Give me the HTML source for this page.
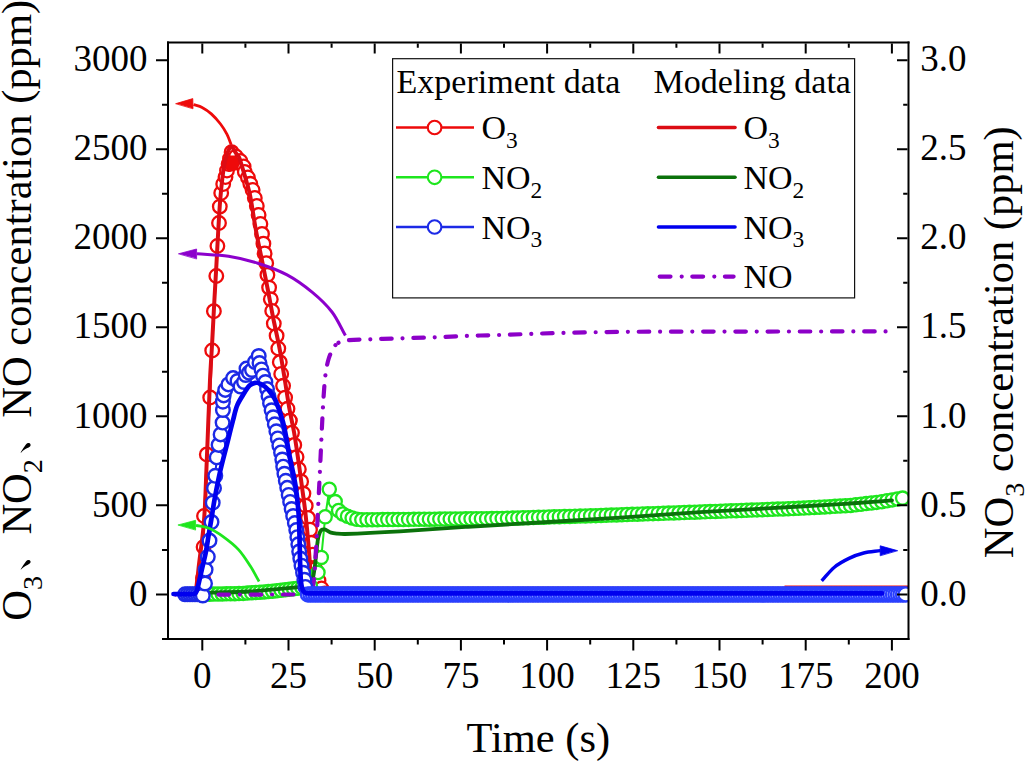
<!DOCTYPE html><html><head><meta charset="utf-8"><title>chart</title><style>html,body{margin:0;padding:0;background:#fff;}svg{display:block;}text{font-family:"Liberation Serif",serif;fill:#000;}</style></head><body>
<svg width="1025" height="762" viewBox="0 0 1025 762">
<rect width="1025" height="762" fill="#fff"/>
<defs><clipPath id="pc"><rect x="168" y="42.5" width="740.5" height="596.5"/></clipPath></defs>
<g clip-path="url(#pc)" stroke-linejoin="round" stroke-linecap="round" fill="none">
<path d="M201.5 594.4 L203 578 L203.6 547 L204 516 L206.8 454.4 L210.2 397.5 L212.2 350.5 L213.9 311.2 L216.3 276 L217.4 246 L219 223 L219.8 206.6 L221.2 193 L223.2 184 L225.5 177 L227 170.5 L228.6 164 L230 158.6 L231.6 152.2 L236 156.5 L240.4 161 L243.6 166.5 L244.8 172 L247.9 177.5 L250.3 183.8 L252.6 190 L254.8 198 L256.8 206 L258.6 215 L260.4 224 L262 233.9 L263.4 243.7 L264.6 253.4 L266.2 263.2 L267.4 274.9 L269.1 287.6 L270.8 299.3 L272.2 311 L273.8 323.5 L276.6 335.7 L278.3 348.5 L279.8 362.2 L281.2 374 L283.1 385.8 L285.1 397.6 L287.5 408.8 L289.7 420.6 L289.7 420.6 L291.99 432.76 L294.27 444.93 L296.56 457.09 L298.85 469.25 L301.14 481.41 L303.43 493.57 L305.71 505.74 L308 517.9 L310 529.7 L311.3 542.8 L312.6 554.6 L315.2 569.1 L318.5 580.5 L321.5 588.5 L325 593.5 L328 594.4 L333 594.4 L338 594.4 L343 594.4 L348 594.4 L353 594.4 L358 594.4 L363 594.4 L368 594.4 L373 594.4 L378 594.4 L383 594.4 L388 594.4 L393 594.4 L398 594.4 L403 594.4 L408 594.4 L413 594.4 L418 594.4 L423 594.4 L428 594.4 L433 594.4 L438 594.4 L443 594.4 L448 594.4 L453 594.4 L458 594.4 L463 594.4 L468 594.4 L473 594.4 L478 594.4 L483 594.4 L488 594.4 L493 594.4 L498 594.4 L503 594.4 L508 594.4 L513 594.4 L518 594.4 L523 594.4 L528 594.4 L533 594.4 L538 594.4 L543 594.4 L548 594.4 L553 594.4 L558 594.4 L563 594.4 L568 594.4 L573 594.4 L578 594.4 L583 594.4 L588 594.4 L593 594.4 L598 594.4 L603 594.4 L608 594.4 L613 594.4 L618 594.4 L623 594.4 L628 594.4 L633 594.4 L638 594.4 L643 594.4 L648 594.4 L653 594.4 L658 594.4 L663 594.4 L668 594.4 L673 594.4 L678 594.4 L683 594.4 L688 594.4 L693 594.4 L698 594.4 L703 594.4 L708 594.4 L713 594.4 L718 594.4 L723 594.4 L728 594.4 L733 594.4 L738 594.4 L743 594.4 L748 594.4 L753 594.4 L758 594.4 L763 594.4 L768 594.4 L773 594.4 L778 594.4 L783 594.4 L788 594.4 L793 594.4 L798 594.4 L803 594.4 L808 594.4 L813 594.4 L818 594.4 L823 594.4 L828 594.4 L833 594.4 L838 594.4 L843 594.4 L848 594.4 L853 594.4 L858 594.4 L863 594.4 L868 594.4 L873 594.4 L878 594.4 L883 594.4 L888 594.4 L893 594.4 L898 594.4 L903 594.4" stroke="#ee0a0a" stroke-width="2" fill="none"/>
<g fill="#fff" stroke="#ee0a0a" stroke-width="2.3"><circle cx="201.5" cy="594.4" r="6.8"/><circle cx="203" cy="578" r="6.8"/><circle cx="203.6" cy="547" r="6.8"/><circle cx="204" cy="516" r="6.8"/><circle cx="206.8" cy="454.4" r="6.8"/><circle cx="210.2" cy="397.5" r="6.8"/><circle cx="212.2" cy="350.5" r="6.8"/><circle cx="213.9" cy="311.2" r="6.8"/><circle cx="216.3" cy="276" r="6.8"/><circle cx="217.4" cy="246" r="6.8"/><circle cx="219" cy="223" r="6.8"/><circle cx="219.8" cy="206.6" r="6.8"/><circle cx="221.2" cy="193" r="6.8"/><circle cx="223.2" cy="184" r="6.8"/><circle cx="225.5" cy="177" r="6.8"/><circle cx="227" cy="170.5" r="6.8"/><circle cx="228.6" cy="164" r="6.8"/><circle cx="230" cy="158.6" r="6.8"/><circle cx="231.6" cy="152.2" r="6.8"/><circle cx="236" cy="156.5" r="6.8"/><circle cx="240.4" cy="161" r="6.8"/><circle cx="243.6" cy="166.5" r="6.8"/><circle cx="244.8" cy="172" r="6.8"/><circle cx="247.9" cy="177.5" r="6.8"/><circle cx="250.3" cy="183.8" r="6.8"/><circle cx="252.6" cy="190" r="6.8"/><circle cx="254.8" cy="198" r="6.8"/><circle cx="256.8" cy="206" r="6.8"/><circle cx="258.6" cy="215" r="6.8"/><circle cx="260.4" cy="224" r="6.8"/><circle cx="262" cy="233.9" r="6.8"/><circle cx="263.4" cy="243.7" r="6.8"/><circle cx="264.6" cy="253.4" r="6.8"/><circle cx="266.2" cy="263.2" r="6.8"/><circle cx="267.4" cy="274.9" r="6.8"/><circle cx="269.1" cy="287.6" r="6.8"/><circle cx="270.8" cy="299.3" r="6.8"/><circle cx="272.2" cy="311" r="6.8"/><circle cx="273.8" cy="323.5" r="6.8"/><circle cx="276.6" cy="335.7" r="6.8"/><circle cx="278.3" cy="348.5" r="6.8"/><circle cx="279.8" cy="362.2" r="6.8"/><circle cx="281.2" cy="374" r="6.8"/><circle cx="283.1" cy="385.8" r="6.8"/><circle cx="285.1" cy="397.6" r="6.8"/><circle cx="287.5" cy="408.8" r="6.8"/><circle cx="289.7" cy="420.6" r="6.8"/><circle cx="289.7" cy="420.6" r="6.8"/><circle cx="291.99" cy="432.76" r="6.8"/><circle cx="294.27" cy="444.93" r="6.8"/><circle cx="296.56" cy="457.09" r="6.8"/><circle cx="298.85" cy="469.25" r="6.8"/><circle cx="301.14" cy="481.41" r="6.8"/><circle cx="303.43" cy="493.57" r="6.8"/><circle cx="305.71" cy="505.74" r="6.8"/><circle cx="308" cy="517.9" r="6.8"/><circle cx="310" cy="529.7" r="6.8"/><circle cx="311.3" cy="542.8" r="6.8"/><circle cx="312.6" cy="554.6" r="6.8"/><circle cx="315.2" cy="569.1" r="6.8"/><circle cx="318.5" cy="580.5" r="6.8"/><circle cx="321.5" cy="588.5" r="6.8"/><circle cx="325" cy="593.5" r="6.8"/><circle cx="328" cy="594.4" r="6.8"/><circle cx="333" cy="594.4" r="6.8"/><circle cx="338" cy="594.4" r="6.8"/><circle cx="343" cy="594.4" r="6.8"/><circle cx="348" cy="594.4" r="6.8"/><circle cx="353" cy="594.4" r="6.8"/><circle cx="358" cy="594.4" r="6.8"/><circle cx="363" cy="594.4" r="6.8"/><circle cx="368" cy="594.4" r="6.8"/><circle cx="373" cy="594.4" r="6.8"/><circle cx="378" cy="594.4" r="6.8"/><circle cx="383" cy="594.4" r="6.8"/><circle cx="388" cy="594.4" r="6.8"/><circle cx="393" cy="594.4" r="6.8"/><circle cx="398" cy="594.4" r="6.8"/><circle cx="403" cy="594.4" r="6.8"/><circle cx="408" cy="594.4" r="6.8"/><circle cx="413" cy="594.4" r="6.8"/><circle cx="418" cy="594.4" r="6.8"/><circle cx="423" cy="594.4" r="6.8"/><circle cx="428" cy="594.4" r="6.8"/><circle cx="433" cy="594.4" r="6.8"/><circle cx="438" cy="594.4" r="6.8"/><circle cx="443" cy="594.4" r="6.8"/><circle cx="448" cy="594.4" r="6.8"/><circle cx="453" cy="594.4" r="6.8"/><circle cx="458" cy="594.4" r="6.8"/><circle cx="463" cy="594.4" r="6.8"/><circle cx="468" cy="594.4" r="6.8"/><circle cx="473" cy="594.4" r="6.8"/><circle cx="478" cy="594.4" r="6.8"/><circle cx="483" cy="594.4" r="6.8"/><circle cx="488" cy="594.4" r="6.8"/><circle cx="493" cy="594.4" r="6.8"/><circle cx="498" cy="594.4" r="6.8"/><circle cx="503" cy="594.4" r="6.8"/><circle cx="508" cy="594.4" r="6.8"/><circle cx="513" cy="594.4" r="6.8"/><circle cx="518" cy="594.4" r="6.8"/><circle cx="523" cy="594.4" r="6.8"/><circle cx="528" cy="594.4" r="6.8"/><circle cx="533" cy="594.4" r="6.8"/><circle cx="538" cy="594.4" r="6.8"/><circle cx="543" cy="594.4" r="6.8"/><circle cx="548" cy="594.4" r="6.8"/><circle cx="553" cy="594.4" r="6.8"/><circle cx="558" cy="594.4" r="6.8"/><circle cx="563" cy="594.4" r="6.8"/><circle cx="568" cy="594.4" r="6.8"/><circle cx="573" cy="594.4" r="6.8"/><circle cx="578" cy="594.4" r="6.8"/><circle cx="583" cy="594.4" r="6.8"/><circle cx="588" cy="594.4" r="6.8"/><circle cx="593" cy="594.4" r="6.8"/><circle cx="598" cy="594.4" r="6.8"/><circle cx="603" cy="594.4" r="6.8"/><circle cx="608" cy="594.4" r="6.8"/><circle cx="613" cy="594.4" r="6.8"/><circle cx="618" cy="594.4" r="6.8"/><circle cx="623" cy="594.4" r="6.8"/><circle cx="628" cy="594.4" r="6.8"/><circle cx="633" cy="594.4" r="6.8"/><circle cx="638" cy="594.4" r="6.8"/><circle cx="643" cy="594.4" r="6.8"/><circle cx="648" cy="594.4" r="6.8"/><circle cx="653" cy="594.4" r="6.8"/><circle cx="658" cy="594.4" r="6.8"/><circle cx="663" cy="594.4" r="6.8"/><circle cx="668" cy="594.4" r="6.8"/><circle cx="673" cy="594.4" r="6.8"/><circle cx="678" cy="594.4" r="6.8"/><circle cx="683" cy="594.4" r="6.8"/><circle cx="688" cy="594.4" r="6.8"/><circle cx="693" cy="594.4" r="6.8"/><circle cx="698" cy="594.4" r="6.8"/><circle cx="703" cy="594.4" r="6.8"/><circle cx="708" cy="594.4" r="6.8"/><circle cx="713" cy="594.4" r="6.8"/><circle cx="718" cy="594.4" r="6.8"/><circle cx="723" cy="594.4" r="6.8"/><circle cx="728" cy="594.4" r="6.8"/><circle cx="733" cy="594.4" r="6.8"/><circle cx="738" cy="594.4" r="6.8"/><circle cx="743" cy="594.4" r="6.8"/><circle cx="748" cy="594.4" r="6.8"/><circle cx="753" cy="594.4" r="6.8"/><circle cx="758" cy="594.4" r="6.8"/><circle cx="763" cy="594.4" r="6.8"/><circle cx="768" cy="594.4" r="6.8"/><circle cx="773" cy="594.4" r="6.8"/><circle cx="778" cy="594.4" r="6.8"/><circle cx="783" cy="594.4" r="6.8"/><circle cx="788" cy="594.4" r="6.8"/><circle cx="793" cy="594.4" r="6.8"/><circle cx="798" cy="594.4" r="6.8"/><circle cx="803" cy="594.4" r="6.8"/><circle cx="808" cy="594.4" r="6.8"/><circle cx="813" cy="594.4" r="6.8"/><circle cx="818" cy="594.4" r="6.8"/><circle cx="823" cy="594.4" r="6.8"/><circle cx="828" cy="594.4" r="6.8"/><circle cx="833" cy="594.4" r="6.8"/><circle cx="838" cy="594.4" r="6.8"/><circle cx="843" cy="594.4" r="6.8"/><circle cx="848" cy="594.4" r="6.8"/><circle cx="853" cy="594.4" r="6.8"/><circle cx="858" cy="594.4" r="6.8"/><circle cx="863" cy="594.4" r="6.8"/><circle cx="868" cy="594.4" r="6.8"/><circle cx="873" cy="594.4" r="6.8"/><circle cx="878" cy="594.4" r="6.8"/><circle cx="883" cy="594.4" r="6.8"/><circle cx="888" cy="594.4" r="6.8"/><circle cx="893" cy="594.4" r="6.8"/><circle cx="898" cy="594.4" r="6.8"/><circle cx="903" cy="594.4" r="6.8"/></g>
<path d="M226.8 155.6 L236.2 155.6 L240.6 162 L237.5 170 L229.5 172 L223.6 167.5 Z" fill="#ee0a0a"/>
<path d="M190 594.4 C191.67 593.6 194.25 593.5 195 592 C196.65 588.7 196.62 584.02 197.2 580 C197.92 575.02 198.3 570 198.9 565 C199.66 558.66 200.53 552.34 201.3 546 C202.03 540 202.86 534.01 203.4 528 C204.09 520.35 204.6 512.67 205 505 C205.6 493.34 205.93 481.67 206.4 470 C206.8 460 207.2 450 207.6 440 C208.4 420 209.06 399.99 210 380 C210.63 366.66 211.57 353.34 212.3 340 C213.03 326.67 213.67 313.33 214.4 300 C215.04 288.33 215.75 276.67 216.4 265 C217.09 252.67 217.68 240.33 218.4 228 C218.95 218.66 219.45 209.32 220.2 200 C220.79 192.65 221.51 185.31 222.4 178 C223.05 172.65 223.69 167.26 224.8 162 C225.55 158.43 226.62 154.86 228 151.5 C228.79 149.59 230.15 146.32 231.3 146.2 C232.35 146.09 233.56 149.23 234.6 150.8 C235.39 152 235.97 153.33 236.8 154.5 C237.44 155.4 238.57 156 239 157 C240.3 160 241.03 163.32 242 166.5 C243.6 171.72 245.24 176.94 246.7 182.2 C247.97 186.77 249.3 191.34 250.2 196 C252.37 207.28 253.84 218.7 255.9 230 C257.61 239.36 259.63 248.67 261.5 258 C263.53 268.17 265.62 278.32 267.6 288.5 C269.52 298.32 271.24 308.19 273.2 318 C275.14 327.72 277.45 337.36 279.3 347.1 C281.12 356.7 282.62 366.36 284.2 376 C285.99 386.89 287.5 397.83 289.4 408.7 C290.76 416.5 292.65 424.2 294 432 C295.61 441.3 296.94 450.66 298.3 460 C299.61 468.99 300.79 478 302 487 C303.12 495.33 304.36 503.65 305.3 512 C306.53 522.98 307.54 533.99 308.5 545 C309.37 554.99 309.91 565.01 310.8 575 C311.25 580.01 311.23 585.3 312.5 590 C312.96 591.7 314.49 593.5 316 594.2 C317.66 594.97 320 594.33 322 594.4" stroke="#dc0c14" stroke-width="4.0" fill="none"/>
<path d="M209.6 594.2 L213.8 594.12 L218 594.03 L222.2 593.95 L226.4 593.87 L230.6 593.79 L234.8 593.7 L239 593.62 L243.2 593.38 L247.4 593.08 L251.6 592.79 L255.8 592.49 L260 592.2 L264.2 591.91 L268.4 591.61 L272.6 591.2 L276.8 590.71 L281 590.22 L285.2 589.73 L289.4 589.25 L293.6 588.76 L297.8 588.27 L302 587.63 L306.2 586.95 L310.4 585.9 L318 572.5 L321.3 557.4 L325.2 516.8 L329.3 489.3 L335.2 501.6 L338.6 510.5 L342.8 513.9 L347.5 516.2 L352.1 518 L356.8 519.2 L361.8 519.8 L367 519.75 L372.2 519.71 L377.4 519.66 L382.6 519.62 L387.8 519.57 L393 519.53 L398.2 519.48 L403.4 519.43 L408.6 519.39 L413.8 519.34 L419 519.3 L424.2 519.25 L429.4 519.21 L434.6 519.15 L439.8 519.1 L445 519.05 L450.2 519 L455.4 518.95 L460.6 518.89 L465.8 518.84 L471 518.79 L476.2 518.74 L481.4 518.69 L486.6 518.63 L491.8 518.58 L497 518.53 L502.2 518.43 L507.4 518.28 L512.6 518.12 L517.8 517.97 L523 517.81 L528.2 517.65 L533.4 517.5 L538.6 517.34 L543.8 517.19 L549 517.03 L554.2 516.87 L559.4 516.72 L564.6 516.56 L569.8 516.41 L575 516.25 L580.2 516.09 L585.4 515.94 L590.6 515.78 L595.8 515.63 L601 515.47 L606.2 515.28 L611.4 515.1 L616.6 514.92 L621.8 514.74 L627 514.55 L632.2 514.37 L637.4 514.19 L642.6 514.01 L647.8 513.83 L653 513.64 L658.2 513.46 L663.4 513.28 L668.6 513.1 L673.8 512.92 L679 512.74 L684.2 512.55 L689.4 512.37 L694.6 512.19 L699.8 512.01 L705 511.81 L710.2 511.62 L715.4 511.43 L720.6 511.24 L725.8 511.05 L731 510.85 L736.2 510.66 L741.4 510.47 L746.6 510.28 L751.8 510.08 L757 509.89 L762.2 509.7 L767.4 509.51 L772.6 509.31 L777.8 509.12 L783 508.93 L788.2 508.74 L793.4 508.54 L798.6 508.35 L803.8 508.09 L809 507.8 L814.2 507.5 L819.4 507.21 L824.6 506.92 L829.8 506.63 L835 506.34 L840.2 506.05 L845.4 505.76 L850.6 505.43 L855.8 504.82 L861 504.22 L866.2 503.61 L871.4 503 L876.6 502.4 L881.8 501.69 L887 500.79 L892.2 499.89 L897.4 498.99 L902.6 498.09" stroke="#1ee61e" stroke-width="2" fill="none"/>
<g fill="#fff" stroke="#1ee61e" stroke-width="2.3"><circle cx="209.6" cy="594.2" r="6.6"/><circle cx="213.8" cy="594.12" r="6.6"/><circle cx="218" cy="594.03" r="6.6"/><circle cx="222.2" cy="593.95" r="6.6"/><circle cx="226.4" cy="593.87" r="6.6"/><circle cx="230.6" cy="593.79" r="6.6"/><circle cx="234.8" cy="593.7" r="6.6"/><circle cx="239" cy="593.62" r="6.6"/><circle cx="243.2" cy="593.38" r="6.6"/><circle cx="247.4" cy="593.08" r="6.6"/><circle cx="251.6" cy="592.79" r="6.6"/><circle cx="255.8" cy="592.49" r="6.6"/><circle cx="260" cy="592.2" r="6.6"/><circle cx="264.2" cy="591.91" r="6.6"/><circle cx="268.4" cy="591.61" r="6.6"/><circle cx="272.6" cy="591.2" r="6.6"/><circle cx="276.8" cy="590.71" r="6.6"/><circle cx="281" cy="590.22" r="6.6"/><circle cx="285.2" cy="589.73" r="6.6"/><circle cx="289.4" cy="589.25" r="6.6"/><circle cx="293.6" cy="588.76" r="6.6"/><circle cx="297.8" cy="588.27" r="6.6"/><circle cx="302" cy="587.63" r="6.6"/><circle cx="306.2" cy="586.95" r="6.6"/><circle cx="310.4" cy="585.9" r="6.6"/><circle cx="318" cy="572.5" r="6.6"/><circle cx="321.3" cy="557.4" r="6.6"/><circle cx="325.2" cy="516.8" r="6.6"/><circle cx="329.3" cy="489.3" r="6.6"/><circle cx="335.2" cy="501.6" r="6.6"/><circle cx="338.6" cy="510.5" r="6.6"/><circle cx="342.8" cy="513.9" r="6.6"/><circle cx="347.5" cy="516.2" r="6.6"/><circle cx="352.1" cy="518" r="6.6"/><circle cx="356.8" cy="519.2" r="6.6"/><circle cx="361.8" cy="519.8" r="6.6"/><circle cx="367" cy="519.75" r="6.6"/><circle cx="372.2" cy="519.71" r="6.6"/><circle cx="377.4" cy="519.66" r="6.6"/><circle cx="382.6" cy="519.62" r="6.6"/><circle cx="387.8" cy="519.57" r="6.6"/><circle cx="393" cy="519.53" r="6.6"/><circle cx="398.2" cy="519.48" r="6.6"/><circle cx="403.4" cy="519.43" r="6.6"/><circle cx="408.6" cy="519.39" r="6.6"/><circle cx="413.8" cy="519.34" r="6.6"/><circle cx="419" cy="519.3" r="6.6"/><circle cx="424.2" cy="519.25" r="6.6"/><circle cx="429.4" cy="519.21" r="6.6"/><circle cx="434.6" cy="519.15" r="6.6"/><circle cx="439.8" cy="519.1" r="6.6"/><circle cx="445" cy="519.05" r="6.6"/><circle cx="450.2" cy="519" r="6.6"/><circle cx="455.4" cy="518.95" r="6.6"/><circle cx="460.6" cy="518.89" r="6.6"/><circle cx="465.8" cy="518.84" r="6.6"/><circle cx="471" cy="518.79" r="6.6"/><circle cx="476.2" cy="518.74" r="6.6"/><circle cx="481.4" cy="518.69" r="6.6"/><circle cx="486.6" cy="518.63" r="6.6"/><circle cx="491.8" cy="518.58" r="6.6"/><circle cx="497" cy="518.53" r="6.6"/><circle cx="502.2" cy="518.43" r="6.6"/><circle cx="507.4" cy="518.28" r="6.6"/><circle cx="512.6" cy="518.12" r="6.6"/><circle cx="517.8" cy="517.97" r="6.6"/><circle cx="523" cy="517.81" r="6.6"/><circle cx="528.2" cy="517.65" r="6.6"/><circle cx="533.4" cy="517.5" r="6.6"/><circle cx="538.6" cy="517.34" r="6.6"/><circle cx="543.8" cy="517.19" r="6.6"/><circle cx="549" cy="517.03" r="6.6"/><circle cx="554.2" cy="516.87" r="6.6"/><circle cx="559.4" cy="516.72" r="6.6"/><circle cx="564.6" cy="516.56" r="6.6"/><circle cx="569.8" cy="516.41" r="6.6"/><circle cx="575" cy="516.25" r="6.6"/><circle cx="580.2" cy="516.09" r="6.6"/><circle cx="585.4" cy="515.94" r="6.6"/><circle cx="590.6" cy="515.78" r="6.6"/><circle cx="595.8" cy="515.63" r="6.6"/><circle cx="601" cy="515.47" r="6.6"/><circle cx="606.2" cy="515.28" r="6.6"/><circle cx="611.4" cy="515.1" r="6.6"/><circle cx="616.6" cy="514.92" r="6.6"/><circle cx="621.8" cy="514.74" r="6.6"/><circle cx="627" cy="514.55" r="6.6"/><circle cx="632.2" cy="514.37" r="6.6"/><circle cx="637.4" cy="514.19" r="6.6"/><circle cx="642.6" cy="514.01" r="6.6"/><circle cx="647.8" cy="513.83" r="6.6"/><circle cx="653" cy="513.64" r="6.6"/><circle cx="658.2" cy="513.46" r="6.6"/><circle cx="663.4" cy="513.28" r="6.6"/><circle cx="668.6" cy="513.1" r="6.6"/><circle cx="673.8" cy="512.92" r="6.6"/><circle cx="679" cy="512.74" r="6.6"/><circle cx="684.2" cy="512.55" r="6.6"/><circle cx="689.4" cy="512.37" r="6.6"/><circle cx="694.6" cy="512.19" r="6.6"/><circle cx="699.8" cy="512.01" r="6.6"/><circle cx="705" cy="511.81" r="6.6"/><circle cx="710.2" cy="511.62" r="6.6"/><circle cx="715.4" cy="511.43" r="6.6"/><circle cx="720.6" cy="511.24" r="6.6"/><circle cx="725.8" cy="511.05" r="6.6"/><circle cx="731" cy="510.85" r="6.6"/><circle cx="736.2" cy="510.66" r="6.6"/><circle cx="741.4" cy="510.47" r="6.6"/><circle cx="746.6" cy="510.28" r="6.6"/><circle cx="751.8" cy="510.08" r="6.6"/><circle cx="757" cy="509.89" r="6.6"/><circle cx="762.2" cy="509.7" r="6.6"/><circle cx="767.4" cy="509.51" r="6.6"/><circle cx="772.6" cy="509.31" r="6.6"/><circle cx="777.8" cy="509.12" r="6.6"/><circle cx="783" cy="508.93" r="6.6"/><circle cx="788.2" cy="508.74" r="6.6"/><circle cx="793.4" cy="508.54" r="6.6"/><circle cx="798.6" cy="508.35" r="6.6"/><circle cx="803.8" cy="508.09" r="6.6"/><circle cx="809" cy="507.8" r="6.6"/><circle cx="814.2" cy="507.5" r="6.6"/><circle cx="819.4" cy="507.21" r="6.6"/><circle cx="824.6" cy="506.92" r="6.6"/><circle cx="829.8" cy="506.63" r="6.6"/><circle cx="835" cy="506.34" r="6.6"/><circle cx="840.2" cy="506.05" r="6.6"/><circle cx="845.4" cy="505.76" r="6.6"/><circle cx="850.6" cy="505.43" r="6.6"/><circle cx="855.8" cy="504.82" r="6.6"/><circle cx="861" cy="504.22" r="6.6"/><circle cx="866.2" cy="503.61" r="6.6"/><circle cx="871.4" cy="503" r="6.6"/><circle cx="876.6" cy="502.4" r="6.6"/><circle cx="881.8" cy="501.69" r="6.6"/><circle cx="887" cy="500.79" r="6.6"/><circle cx="892.2" cy="499.89" r="6.6"/><circle cx="897.4" cy="498.99" r="6.6"/><circle cx="902.6" cy="498.09" r="6.6"/></g>
<path d="M200 593.2 C203.67 593 207.33 592.72 211 592.6 C224 592.16 237.03 592.32 250 591.5 C266.16 590.48 282.28 588.68 298.4 587.1 C300.95 586.85 303.68 586.9 306 586 C308.05 585.2 310.39 583.83 311.5 582 C313.02 579.5 313.35 576.05 313.9 573 C314.79 568.05 315.2 563 315.8 558 C316.5 552.07 316.88 546.09 317.8 540.2 C318.21 537.59 318.84 534.92 319.8 532.5 C320.24 531.39 321.07 530.21 322 529.6 C322.64 529.18 323.7 529.26 324.5 529.4 C325.37 529.56 326.18 530.1 327 530.5 C328.35 531.16 329.57 532.18 331 532.6 C333.07 533.21 335.32 533.38 337.5 533.6 C339.99 533.85 342.5 534.09 345 534 C363.33 533.33 381.68 532.37 400 531.3 C422.68 529.97 445.33 528.23 468 526.8 C492 525.29 516 523.95 540 522.5 C566.67 520.89 593.34 519.32 620 517.6 C646.67 515.88 673.32 513.85 700 512.2 C733.32 510.15 766.67 508.43 800 506.5 C816.67 505.53 833.34 504.6 850 503.5 C864.01 502.57 878 501.43 892 500.4" stroke="#0b720b" stroke-width="3.8" fill="none"/>
<path d="M173.5 594.6 L303 594.5" stroke="#8c00c8" stroke-width="4.2" fill="none" stroke-dasharray="10.5 10.85 0.01 10.85" stroke-dashoffset="19.4"/>
<path d="M303 594.5 C305 594.13 307.45 594.45 309 593.4 C310.65 592.28 312.07 590.05 312.6 588 C313.91 582.91 314.01 577.35 314.5 572 C315.01 566.35 315.23 560.67 315.6 555 C315.93 550 316.33 545 316.6 540 C317.06 531.34 317.38 522.67 317.8 514 C318.31 503.33 318.88 492.67 319.4 482 C319.88 472 320.33 462 320.8 452 C321.27 442 321.7 432 322.2 422 C322.6 414 322.99 405.99 323.5 398 C323.89 391.99 324.31 385.99 324.9 380 C325.28 376.15 325.73 372.3 326.4 368.5 C326.96 365.3 327.64 362.09 328.6 359 C329.5 356.09 330.61 353.2 332 350.5 C333.28 348 335.07 345.77 336.6 343.4" stroke="#8c00c8" stroke-width="4.2" fill="none" stroke-dasharray="10.5 10.85 0.01 10.85" stroke-dashoffset="21"/>
<path d="M336.6 343.4 C339.83 342.4 342.96 340.81 346.3 340.4 C354.03 339.45 361.96 339.6 369.8 339.3 C380.53 338.9 391.27 338.63 402 338.3 C412.7 337.97 423.4 337.7 434.1 337.3 C444.84 336.9 455.56 336.28 466.3 335.9 C477.03 335.52 487.77 335.33 498.5 335 C519 334.37 539.5 333.52 560 333 C580 332.49 600 332.1 620 331.9 C646.66 331.63 673.33 331.66 700 331.6 C733.33 331.53 766.67 331.54 800 331.5 C830 331.47 860 331.43 890 331.4" stroke="#8c00c8" stroke-width="4.2" fill="none" stroke-dasharray="0.01 10.85 10.5 10.85" stroke-dashoffset="-2"/>
<path d="M785 586.3 H908" stroke="#ee0a0a" stroke-width="1.6"/>
<path d="M185 594.3 L187.5 594.3 L190 594.3 L192.5 594.3 L195 594.3 L197.5 594.3 L200 594.3 L202.8 595.5 L205 583.5 L205.6 569.6 L207.8 556.8 L209.5 540.6 L211.5 522 L212.7 502.7 L214 488.2 L215.3 475.8 L216.7 457.4 L218.6 444.9 L220.6 434.4 L222.6 422.6 L222.9 410 L222.9 401.7 L223.7 395.4 L225.2 389.9 L228.4 384.4 L233.1 378.1 L237.5 381 L240.5 386.5 L244 382 L245.7 375 L246.5 368.6 L249 372.6 L252 370 L255 362 L258.7 356 L259.5 363.1 L261.5 369.4 L263 375.7 L265.4 382 L267 389.1 L268.5 396.2 L270.02 403.24 L271.61 410.26 L273.23 417.27 L274.8 424.3 L276.36 431.33 L277.78 438.39 L279.32 445.42 L281.04 452.41 L282.29 459.49 L283.24 466.63 L284.44 473.73 L285.79 480.8 L287.23 487.85 L288.68 494.91 L290.16 501.95 L291.65 509 L293.18 516.03 L294.85 523.04 L296.27 530.09 L297.35 537.21 L298.31 544.34 L299.18 551.49 L300.3 558.6 L301.53 565.69 L303.07 572.73 L304.38 579.8 L305.35 586.93 L308 594.4 L310.5 594.4 L313 594.4 L315.5 594.4 L318 594.4 L320.5 594.4 L323 594.4 L325.5 594.4 L328 594.4 L330.5 594.4 L333 594.4 L335.5 594.4 L338 594.4 L340.5 594.4 L343 594.4 L345.5 594.4 L348 594.4 L350.5 594.4 L353 594.4 L355.5 594.4 L358 594.4 L360.5 594.4 L363 594.4 L365.5 594.4 L368 594.4 L370.5 594.4 L373 594.4 L375.5 594.4 L378 594.4 L380.5 594.4 L383 594.4 L385.5 594.4 L388 594.4 L390.5 594.4 L393 594.4 L395.5 594.4 L398 594.4 L400.5 594.4 L403 594.4 L405.5 594.4 L408 594.4 L410.5 594.4 L413 594.4 L415.5 594.4 L418 594.4 L420.5 594.4 L423 594.4 L425.5 594.4 L428 594.4 L430.5 594.4 L433 594.4 L435.5 594.4 L438 594.4 L440.5 594.4 L443 594.4 L445.5 594.4 L448 594.4 L450.5 594.4 L453 594.4 L455.5 594.4 L458 594.4 L460.5 594.4 L463 594.4 L465.5 594.4 L468 594.4 L470.5 594.4 L473 594.4 L475.5 594.4 L478 594.4 L480.5 594.4 L483 594.4 L485.5 594.4 L488 594.4 L490.5 594.4 L493 594.4 L495.5 594.4 L498 594.4 L500.5 594.4 L503 594.4 L505.5 594.4 L508 594.4 L510.5 594.4 L513 594.4 L515.5 594.4 L518 594.4 L520.5 594.4 L523 594.4 L525.5 594.4 L528 594.4 L530.5 594.4 L533 594.4 L535.5 594.4 L538 594.4 L540.5 594.4 L543 594.4 L545.5 594.4 L548 594.4 L550.5 594.4 L553 594.4 L555.5 594.4 L558 594.4 L560.5 594.4 L563 594.4 L565.5 594.4 L568 594.4 L570.5 594.4 L573 594.4 L575.5 594.4 L578 594.4 L580.5 594.4 L583 594.4 L585.5 594.4 L588 594.4 L590.5 594.4 L593 594.4 L595.5 594.4 L598 594.4 L600.5 594.4 L603 594.4 L605.5 594.4 L608 594.4 L610.5 594.4 L613 594.4 L615.5 594.4 L618 594.4 L620.5 594.4 L623 594.4 L625.5 594.4 L628 594.4 L630.5 594.4 L633 594.4 L635.5 594.4 L638 594.4 L640.5 594.4 L643 594.4 L645.5 594.4 L648 594.4 L650.5 594.4 L653 594.4 L655.5 594.4 L658 594.4 L660.5 594.4 L663 594.4 L665.5 594.4 L668 594.4 L670.5 594.4 L673 594.4 L675.5 594.4 L678 594.4 L680.5 594.4 L683 594.4 L685.5 594.4 L688 594.4 L690.5 594.4 L693 594.4 L695.5 594.4 L698 594.4 L700.5 594.4 L703 594.4 L705.5 594.4 L708 594.4 L710.5 594.4 L713 594.4 L715.5 594.4 L718 594.4 L720.5 594.4 L723 594.4 L725.5 594.4 L728 594.4 L730.5 594.4 L733 594.4 L735.5 594.4 L738 594.4 L740.5 594.4 L743 594.4 L745.5 594.4 L748 594.4 L750.5 594.4 L753 594.4 L755.5 594.4 L758 594.4 L760.5 594.4 L763 594.4 L765.5 594.4 L768 594.4 L770.5 594.4 L773 594.4 L775.5 594.4 L778 594.4 L780.5 594.4 L783 594.4 L785.5 594.4 L788 594.4 L790.5 594.4 L793 594.4 L795.5 594.4 L798 594.4 L800.5 594.4 L803 594.4 L805.5 594.4 L808 594.4 L810.5 594.4 L813 594.4 L815.5 594.4 L818 594.4 L820.5 594.4 L823 594.4 L825.5 594.4 L828 594.4 L830.5 594.4 L833 594.4 L835.5 594.4 L838 594.4 L840.5 594.4 L843 594.4 L845.5 594.4 L848 594.4 L850.5 594.4 L853 594.4 L855.5 594.4 L858 594.4 L860.5 594.4 L863 594.4 L865.5 594.4 L868 594.4 L870.5 594.4 L873 594.4 L875.5 594.4 L878 594.4 L880.5 594.4 L883 594.4 L885.5 594.4 L888 594.4 L890.5 594.4 L893 594.4 L895.5 594.4 L898 594.4 L900.5 594.4 L903 594.4 L905.5 594.4" stroke="#1c2ae6" stroke-width="2" fill="none"/>
<g fill="#fff" stroke="#1c2ae6" stroke-width="2.4"><circle cx="185" cy="594.3" r="6.8"/><circle cx="187.5" cy="594.3" r="6.8"/><circle cx="190" cy="594.3" r="6.8"/><circle cx="192.5" cy="594.3" r="6.8"/><circle cx="195" cy="594.3" r="6.8"/><circle cx="197.5" cy="594.3" r="6.8"/><circle cx="200" cy="594.3" r="6.8"/><circle cx="202.8" cy="595.5" r="6.8"/><circle cx="205" cy="583.5" r="6.8"/><circle cx="205.6" cy="569.6" r="6.8"/><circle cx="207.8" cy="556.8" r="6.8"/><circle cx="209.5" cy="540.6" r="6.8"/><circle cx="211.5" cy="522" r="6.8"/><circle cx="212.7" cy="502.7" r="6.8"/><circle cx="214" cy="488.2" r="6.8"/><circle cx="215.3" cy="475.8" r="6.8"/><circle cx="216.7" cy="457.4" r="6.8"/><circle cx="218.6" cy="444.9" r="6.8"/><circle cx="220.6" cy="434.4" r="6.8"/><circle cx="222.6" cy="422.6" r="6.8"/><circle cx="222.9" cy="410" r="6.8"/><circle cx="222.9" cy="401.7" r="6.8"/><circle cx="223.7" cy="395.4" r="6.8"/><circle cx="225.2" cy="389.9" r="6.8"/><circle cx="228.4" cy="384.4" r="6.8"/><circle cx="233.1" cy="378.1" r="6.8"/><circle cx="237.5" cy="381" r="6.8"/><circle cx="240.5" cy="386.5" r="6.8"/><circle cx="244" cy="382" r="6.8"/><circle cx="245.7" cy="375" r="6.8"/><circle cx="246.5" cy="368.6" r="6.8"/><circle cx="249" cy="372.6" r="6.8"/><circle cx="252" cy="370" r="6.8"/><circle cx="255" cy="362" r="6.8"/><circle cx="258.7" cy="356" r="6.8"/><circle cx="259.5" cy="363.1" r="6.8"/><circle cx="261.5" cy="369.4" r="6.8"/><circle cx="263" cy="375.7" r="6.8"/><circle cx="265.4" cy="382" r="6.8"/><circle cx="267" cy="389.1" r="6.8"/><circle cx="268.5" cy="396.2" r="6.8"/><circle cx="270.02" cy="403.24" r="6.8"/><circle cx="271.61" cy="410.26" r="6.8"/><circle cx="273.23" cy="417.27" r="6.8"/><circle cx="274.8" cy="424.3" r="6.8"/><circle cx="276.36" cy="431.33" r="6.8"/><circle cx="277.78" cy="438.39" r="6.8"/><circle cx="279.32" cy="445.42" r="6.8"/><circle cx="281.04" cy="452.41" r="6.8"/><circle cx="282.29" cy="459.49" r="6.8"/><circle cx="283.24" cy="466.63" r="6.8"/><circle cx="284.44" cy="473.73" r="6.8"/><circle cx="285.79" cy="480.8" r="6.8"/><circle cx="287.23" cy="487.85" r="6.8"/><circle cx="288.68" cy="494.91" r="6.8"/><circle cx="290.16" cy="501.95" r="6.8"/><circle cx="291.65" cy="509" r="6.8"/><circle cx="293.18" cy="516.03" r="6.8"/><circle cx="294.85" cy="523.04" r="6.8"/><circle cx="296.27" cy="530.09" r="6.8"/><circle cx="297.35" cy="537.21" r="6.8"/><circle cx="298.31" cy="544.34" r="6.8"/><circle cx="299.18" cy="551.49" r="6.8"/><circle cx="300.3" cy="558.6" r="6.8"/><circle cx="301.53" cy="565.69" r="6.8"/><circle cx="303.07" cy="572.73" r="6.8"/><circle cx="304.38" cy="579.8" r="6.8"/><circle cx="305.35" cy="586.93" r="6.8"/></g>
<g fill="#fff" stroke="#2a40ff" stroke-width="2.3"><circle cx="308" cy="594.4" r="7.1"/><circle cx="310.5" cy="594.4" r="7.1"/><circle cx="313" cy="594.4" r="7.1"/><circle cx="315.5" cy="594.4" r="7.1"/><circle cx="318" cy="594.4" r="7.1"/><circle cx="320.5" cy="594.4" r="7.1"/><circle cx="323" cy="594.4" r="7.1"/><circle cx="325.5" cy="594.4" r="7.1"/><circle cx="328" cy="594.4" r="7.1"/><circle cx="330.5" cy="594.4" r="7.1"/><circle cx="333" cy="594.4" r="7.1"/><circle cx="335.5" cy="594.4" r="7.1"/><circle cx="338" cy="594.4" r="7.1"/><circle cx="340.5" cy="594.4" r="7.1"/><circle cx="343" cy="594.4" r="7.1"/><circle cx="345.5" cy="594.4" r="7.1"/><circle cx="348" cy="594.4" r="7.1"/><circle cx="350.5" cy="594.4" r="7.1"/><circle cx="353" cy="594.4" r="7.1"/><circle cx="355.5" cy="594.4" r="7.1"/><circle cx="358" cy="594.4" r="7.1"/><circle cx="360.5" cy="594.4" r="7.1"/><circle cx="363" cy="594.4" r="7.1"/><circle cx="365.5" cy="594.4" r="7.1"/><circle cx="368" cy="594.4" r="7.1"/><circle cx="370.5" cy="594.4" r="7.1"/><circle cx="373" cy="594.4" r="7.1"/><circle cx="375.5" cy="594.4" r="7.1"/><circle cx="378" cy="594.4" r="7.1"/><circle cx="380.5" cy="594.4" r="7.1"/><circle cx="383" cy="594.4" r="7.1"/><circle cx="385.5" cy="594.4" r="7.1"/><circle cx="388" cy="594.4" r="7.1"/><circle cx="390.5" cy="594.4" r="7.1"/><circle cx="393" cy="594.4" r="7.1"/><circle cx="395.5" cy="594.4" r="7.1"/><circle cx="398" cy="594.4" r="7.1"/><circle cx="400.5" cy="594.4" r="7.1"/><circle cx="403" cy="594.4" r="7.1"/><circle cx="405.5" cy="594.4" r="7.1"/><circle cx="408" cy="594.4" r="7.1"/><circle cx="410.5" cy="594.4" r="7.1"/><circle cx="413" cy="594.4" r="7.1"/><circle cx="415.5" cy="594.4" r="7.1"/><circle cx="418" cy="594.4" r="7.1"/><circle cx="420.5" cy="594.4" r="7.1"/><circle cx="423" cy="594.4" r="7.1"/><circle cx="425.5" cy="594.4" r="7.1"/><circle cx="428" cy="594.4" r="7.1"/><circle cx="430.5" cy="594.4" r="7.1"/><circle cx="433" cy="594.4" r="7.1"/><circle cx="435.5" cy="594.4" r="7.1"/><circle cx="438" cy="594.4" r="7.1"/><circle cx="440.5" cy="594.4" r="7.1"/><circle cx="443" cy="594.4" r="7.1"/><circle cx="445.5" cy="594.4" r="7.1"/><circle cx="448" cy="594.4" r="7.1"/><circle cx="450.5" cy="594.4" r="7.1"/><circle cx="453" cy="594.4" r="7.1"/><circle cx="455.5" cy="594.4" r="7.1"/><circle cx="458" cy="594.4" r="7.1"/><circle cx="460.5" cy="594.4" r="7.1"/><circle cx="463" cy="594.4" r="7.1"/><circle cx="465.5" cy="594.4" r="7.1"/><circle cx="468" cy="594.4" r="7.1"/><circle cx="470.5" cy="594.4" r="7.1"/><circle cx="473" cy="594.4" r="7.1"/><circle cx="475.5" cy="594.4" r="7.1"/><circle cx="478" cy="594.4" r="7.1"/><circle cx="480.5" cy="594.4" r="7.1"/><circle cx="483" cy="594.4" r="7.1"/><circle cx="485.5" cy="594.4" r="7.1"/><circle cx="488" cy="594.4" r="7.1"/><circle cx="490.5" cy="594.4" r="7.1"/><circle cx="493" cy="594.4" r="7.1"/><circle cx="495.5" cy="594.4" r="7.1"/><circle cx="498" cy="594.4" r="7.1"/><circle cx="500.5" cy="594.4" r="7.1"/><circle cx="503" cy="594.4" r="7.1"/><circle cx="505.5" cy="594.4" r="7.1"/><circle cx="508" cy="594.4" r="7.1"/><circle cx="510.5" cy="594.4" r="7.1"/><circle cx="513" cy="594.4" r="7.1"/><circle cx="515.5" cy="594.4" r="7.1"/><circle cx="518" cy="594.4" r="7.1"/><circle cx="520.5" cy="594.4" r="7.1"/><circle cx="523" cy="594.4" r="7.1"/><circle cx="525.5" cy="594.4" r="7.1"/><circle cx="528" cy="594.4" r="7.1"/><circle cx="530.5" cy="594.4" r="7.1"/><circle cx="533" cy="594.4" r="7.1"/><circle cx="535.5" cy="594.4" r="7.1"/><circle cx="538" cy="594.4" r="7.1"/><circle cx="540.5" cy="594.4" r="7.1"/><circle cx="543" cy="594.4" r="7.1"/><circle cx="545.5" cy="594.4" r="7.1"/><circle cx="548" cy="594.4" r="7.1"/><circle cx="550.5" cy="594.4" r="7.1"/><circle cx="553" cy="594.4" r="7.1"/><circle cx="555.5" cy="594.4" r="7.1"/><circle cx="558" cy="594.4" r="7.1"/><circle cx="560.5" cy="594.4" r="7.1"/><circle cx="563" cy="594.4" r="7.1"/><circle cx="565.5" cy="594.4" r="7.1"/><circle cx="568" cy="594.4" r="7.1"/><circle cx="570.5" cy="594.4" r="7.1"/><circle cx="573" cy="594.4" r="7.1"/><circle cx="575.5" cy="594.4" r="7.1"/><circle cx="578" cy="594.4" r="7.1"/><circle cx="580.5" cy="594.4" r="7.1"/><circle cx="583" cy="594.4" r="7.1"/><circle cx="585.5" cy="594.4" r="7.1"/><circle cx="588" cy="594.4" r="7.1"/><circle cx="590.5" cy="594.4" r="7.1"/><circle cx="593" cy="594.4" r="7.1"/><circle cx="595.5" cy="594.4" r="7.1"/><circle cx="598" cy="594.4" r="7.1"/><circle cx="600.5" cy="594.4" r="7.1"/><circle cx="603" cy="594.4" r="7.1"/><circle cx="605.5" cy="594.4" r="7.1"/><circle cx="608" cy="594.4" r="7.1"/><circle cx="610.5" cy="594.4" r="7.1"/><circle cx="613" cy="594.4" r="7.1"/><circle cx="615.5" cy="594.4" r="7.1"/><circle cx="618" cy="594.4" r="7.1"/><circle cx="620.5" cy="594.4" r="7.1"/><circle cx="623" cy="594.4" r="7.1"/><circle cx="625.5" cy="594.4" r="7.1"/><circle cx="628" cy="594.4" r="7.1"/><circle cx="630.5" cy="594.4" r="7.1"/><circle cx="633" cy="594.4" r="7.1"/><circle cx="635.5" cy="594.4" r="7.1"/><circle cx="638" cy="594.4" r="7.1"/><circle cx="640.5" cy="594.4" r="7.1"/><circle cx="643" cy="594.4" r="7.1"/><circle cx="645.5" cy="594.4" r="7.1"/><circle cx="648" cy="594.4" r="7.1"/><circle cx="650.5" cy="594.4" r="7.1"/><circle cx="653" cy="594.4" r="7.1"/><circle cx="655.5" cy="594.4" r="7.1"/><circle cx="658" cy="594.4" r="7.1"/><circle cx="660.5" cy="594.4" r="7.1"/><circle cx="663" cy="594.4" r="7.1"/><circle cx="665.5" cy="594.4" r="7.1"/><circle cx="668" cy="594.4" r="7.1"/><circle cx="670.5" cy="594.4" r="7.1"/><circle cx="673" cy="594.4" r="7.1"/><circle cx="675.5" cy="594.4" r="7.1"/><circle cx="678" cy="594.4" r="7.1"/><circle cx="680.5" cy="594.4" r="7.1"/><circle cx="683" cy="594.4" r="7.1"/><circle cx="685.5" cy="594.4" r="7.1"/><circle cx="688" cy="594.4" r="7.1"/><circle cx="690.5" cy="594.4" r="7.1"/><circle cx="693" cy="594.4" r="7.1"/><circle cx="695.5" cy="594.4" r="7.1"/><circle cx="698" cy="594.4" r="7.1"/><circle cx="700.5" cy="594.4" r="7.1"/><circle cx="703" cy="594.4" r="7.1"/><circle cx="705.5" cy="594.4" r="7.1"/><circle cx="708" cy="594.4" r="7.1"/><circle cx="710.5" cy="594.4" r="7.1"/><circle cx="713" cy="594.4" r="7.1"/><circle cx="715.5" cy="594.4" r="7.1"/><circle cx="718" cy="594.4" r="7.1"/><circle cx="720.5" cy="594.4" r="7.1"/><circle cx="723" cy="594.4" r="7.1"/><circle cx="725.5" cy="594.4" r="7.1"/><circle cx="728" cy="594.4" r="7.1"/><circle cx="730.5" cy="594.4" r="7.1"/><circle cx="733" cy="594.4" r="7.1"/><circle cx="735.5" cy="594.4" r="7.1"/><circle cx="738" cy="594.4" r="7.1"/><circle cx="740.5" cy="594.4" r="7.1"/><circle cx="743" cy="594.4" r="7.1"/><circle cx="745.5" cy="594.4" r="7.1"/><circle cx="748" cy="594.4" r="7.1"/><circle cx="750.5" cy="594.4" r="7.1"/><circle cx="753" cy="594.4" r="7.1"/><circle cx="755.5" cy="594.4" r="7.1"/><circle cx="758" cy="594.4" r="7.1"/><circle cx="760.5" cy="594.4" r="7.1"/><circle cx="763" cy="594.4" r="7.1"/><circle cx="765.5" cy="594.4" r="7.1"/><circle cx="768" cy="594.4" r="7.1"/><circle cx="770.5" cy="594.4" r="7.1"/><circle cx="773" cy="594.4" r="7.1"/><circle cx="775.5" cy="594.4" r="7.1"/><circle cx="778" cy="594.4" r="7.1"/><circle cx="780.5" cy="594.4" r="7.1"/><circle cx="783" cy="594.4" r="7.1"/><circle cx="785.5" cy="594.4" r="7.1"/><circle cx="788" cy="594.4" r="7.1"/><circle cx="790.5" cy="594.4" r="7.1"/><circle cx="793" cy="594.4" r="7.1"/><circle cx="795.5" cy="594.4" r="7.1"/><circle cx="798" cy="594.4" r="7.1"/><circle cx="800.5" cy="594.4" r="7.1"/><circle cx="803" cy="594.4" r="7.1"/><circle cx="805.5" cy="594.4" r="7.1"/><circle cx="808" cy="594.4" r="7.1"/><circle cx="810.5" cy="594.4" r="7.1"/><circle cx="813" cy="594.4" r="7.1"/><circle cx="815.5" cy="594.4" r="7.1"/><circle cx="818" cy="594.4" r="7.1"/><circle cx="820.5" cy="594.4" r="7.1"/><circle cx="823" cy="594.4" r="7.1"/><circle cx="825.5" cy="594.4" r="7.1"/><circle cx="828" cy="594.4" r="7.1"/><circle cx="830.5" cy="594.4" r="7.1"/><circle cx="833" cy="594.4" r="7.1"/><circle cx="835.5" cy="594.4" r="7.1"/><circle cx="838" cy="594.4" r="7.1"/><circle cx="840.5" cy="594.4" r="7.1"/><circle cx="843" cy="594.4" r="7.1"/><circle cx="845.5" cy="594.4" r="7.1"/><circle cx="848" cy="594.4" r="7.1"/><circle cx="850.5" cy="594.4" r="7.1"/><circle cx="853" cy="594.4" r="7.1"/><circle cx="855.5" cy="594.4" r="7.1"/><circle cx="858" cy="594.4" r="7.1"/><circle cx="860.5" cy="594.4" r="7.1"/><circle cx="863" cy="594.4" r="7.1"/><circle cx="865.5" cy="594.4" r="7.1"/><circle cx="868" cy="594.4" r="7.1"/><circle cx="870.5" cy="594.4" r="7.1"/><circle cx="873" cy="594.4" r="7.1"/><circle cx="875.5" cy="594.4" r="7.1"/><circle cx="878" cy="594.4" r="7.1"/><circle cx="880.5" cy="594.4" r="7.1"/><circle cx="883" cy="594.4" r="7.1"/><circle cx="885.5" cy="594.4" r="7.1"/><circle cx="888" cy="594.4" r="7.1"/><circle cx="890.5" cy="594.4" r="7.1"/><circle cx="893" cy="594.4" r="7.1"/><circle cx="895.5" cy="594.4" r="7.1"/><circle cx="898" cy="594.4" r="7.1"/><circle cx="900.5" cy="594.4" r="7.1"/><circle cx="903" cy="594.4" r="7.1"/><circle cx="905.5" cy="594.4" r="7.1"/></g>
<path d="M173.5 594 C180.17 594 186.94 594.41 193.5 594 C194.44 593.94 195.45 593.31 196 592.6 C196.72 591.68 196.99 590.31 197.3 589.1 C198.89 582.81 200.23 576.43 201.7 570.1 C202.99 564.53 204.48 559 205.6 553.4 C206.71 547.87 207.47 542.27 208.4 536.7 C209.33 531.13 210.28 525.57 211.2 520 C212.38 512.9 213.4 505.78 214.7 498.7 C216.3 489.94 217.95 481.18 219.9 472.5 C221.88 463.68 224.3 454.97 226.5 446.2 C228.7 437.47 230.81 428.71 233.1 420 C234.41 415.01 235.32 409.82 237.3 405.1 C239.16 400.66 242.03 396.61 244.6 392.5 C246.09 390.11 247.48 387.45 249.5 385.6 C251.01 384.21 253.22 383.03 255.2 382.8 C257.22 382.56 259.68 383.18 261.5 384.2 C264.21 385.71 266.72 388.02 268.8 390.4 C271.32 393.28 273.73 396.5 275.3 400 C278.46 407.03 281.08 414.49 283 422 C285.78 432.83 287.24 444.01 289.4 455 C291.47 465.54 294.08 475.99 295.7 486.6 C297.21 496.49 298.12 506.51 298.8 516.5 C299.45 525.98 299.43 535.5 299.7 545 C299.96 554 299.98 563.01 300.4 572 C300.62 576.68 300.7 581.46 301.6 586 C302.06 588.33 302.92 591.21 304.5 592.6 C305.72 593.67 308.15 593.4 310 593.4 C500.65 593.66 691.33 593.4 882 593.4" stroke="#0000ee" stroke-width="4.7" fill="none"/>
<path d="M821.7 580.9 C825.93 576.33 829.64 571.12 834.4 567.2 C838.74 563.62 843.91 560.87 849 558.4 C853.68 556.13 858.66 554.25 863.7 553 C869.16 551.65 874.9 551.4 880.5 550.6" stroke="#0000ee" stroke-width="3.4" fill="none" stroke-linecap="butt"/><path d="M897.3 550.6 L880.2 545.8 L880.2 555.4 Z" fill="#0000ee" stroke="#0000ee" stroke-width="0.8" stroke-linejoin="miter"/>
<path d="M231.1 144.5 C229.7 141.03 228.61 137.41 226.9 134.1 C225.08 130.57 222.93 127.14 220.5 124 C217.73 120.41 214.66 116.93 211.3 113.9 C208.53 111.4 205.39 109.12 202.1 107.4 C199.46 106.02 196.37 105.53 193.5 104.6" stroke="#ee0a0a" stroke-width="2.8" fill="none" stroke-linecap="butt"/><path d="M176 103.6 L192.8 98.6 L193 108.4 Z" fill="#ee0a0a" stroke="#ee0a0a" stroke-width="0.8" stroke-linejoin="miter"/>
<path d="M345.4 335.6 C340.93 327.73 337.44 319.12 332 312 C326.44 304.72 319.49 298.26 312.4 292.4 C304.53 285.89 296.09 279.71 287.1 274.9 C277.89 269.97 267.8 266.37 257.8 263.2 C248.26 260.17 238.39 257.83 228.5 256.3 C218.12 254.7 207.5 254.63 197 253.8" stroke="#8c00cc" stroke-width="3" fill="none" stroke-linecap="butt"/><path d="M178.8 253.7 L196.6 249 L196.6 258.6 Z" fill="#8c00cc" stroke="#8c00cc" stroke-width="0.8" stroke-linejoin="miter"/>
<path d="M259.1 581.5 C256.17 576.37 253.5 571.06 250.3 566.1 C246.64 560.43 243.05 554.53 238.5 549.6 C233.98 544.7 228.53 540.52 223.1 536.6 C218.69 533.42 213.98 530.37 209 528.3 C204.94 526.61 200.33 526.3 196 525.3" stroke="#1ee61e" stroke-width="2.8" fill="none" stroke-linecap="butt"/><path d="M178.3 524.9 L195.6 520.3 L195.6 529.7 Z" fill="#1ee61e" stroke="#1ee61e" stroke-width="0.8" stroke-linejoin="miter"/>
</g>
<path d="M167 42.5 H909.5" stroke="#000" stroke-width="2"/><path d="M162 639 H909.5" stroke="#000" stroke-width="2"/><path d="M168 41.5 V640" stroke="#000" stroke-width="2"/><path d="M908.5 41.5 V640" stroke="#000" stroke-width="2"/><path d="M202.3 640 V650.5 M202.3 43.5 V53.5 M288.5 640 V650.5 M288.5 43.5 V53.5 M374.7 640 V650.5 M374.7 43.5 V53.5 M460.9 640 V650.5 M460.9 43.5 V53.5 M547.1 640 V650.5 M547.1 43.5 V53.5 M633.3 640 V650.5 M633.3 43.5 V53.5 M719.5 640 V650.5 M719.5 43.5 V53.5 M805.7 640 V650.5 M805.7 43.5 V53.5 M891.9 640 V650.5 M891.9 43.5 V53.5 M245.4 640 V644.5 M245.4 43.5 V47.8 M331.6 640 V644.5 M331.6 43.5 V47.8 M417.8 640 V644.5 M417.8 43.5 V47.8 M504 640 V644.5 M504 43.5 V47.8 M590.2 640 V644.5 M590.2 43.5 V47.8 M676.4 640 V644.5 M676.4 43.5 V47.8 M762.6 640 V644.5 M762.6 43.5 V47.8 M848.8 640 V644.5 M848.8 43.5 V47.8 M167 594.4 H156 M907.5 594.4 H897 M167 505.37 H156 M907.5 505.37 H897 M167 416.33 H156 M907.5 416.33 H897 M167 327.29 H156 M907.5 327.29 H897 M167 238.26 H156 M907.5 238.26 H897 M167 149.22 H156 M907.5 149.22 H897 M167 60.19 H156 M907.5 60.19 H897 M167 549.88 H162 M907.5 549.88 H903.2 M167 460.85 H162 M907.5 460.85 H903.2 M167 371.81 H162 M907.5 371.81 H903.2 M167 282.78 H162 M907.5 282.78 H903.2 M167 193.74 H162 M907.5 193.74 H903.2 M167 104.71 H162 M907.5 104.71 H903.2 " stroke="#000" stroke-width="2" fill="none"/>
<text x="147.4" y="605.6" font-size="37" text-anchor="end">0</text><text x="920.2" y="605.6" font-size="37">0.0</text><text x="147.4" y="516.57" font-size="37" text-anchor="end">500</text><text x="920.2" y="516.57" font-size="37">0.5</text><text x="147.4" y="427.53" font-size="37" text-anchor="end">1000</text><text x="920.2" y="427.53" font-size="37">1.0</text><text x="147.4" y="338.49" font-size="37" text-anchor="end">1500</text><text x="920.2" y="338.49" font-size="37">1.5</text><text x="147.4" y="249.46" font-size="37" text-anchor="end">2000</text><text x="920.2" y="249.46" font-size="37">2.0</text><text x="147.4" y="160.42" font-size="37" text-anchor="end">2500</text><text x="920.2" y="160.42" font-size="37">2.5</text><text x="147.4" y="71.39" font-size="37" text-anchor="end">3000</text><text x="920.2" y="71.39" font-size="37">3.0</text><text x="202.3" y="687.7" font-size="37" text-anchor="middle">0</text><text x="288.5" y="687.7" font-size="37" text-anchor="middle">25</text><text x="374.7" y="687.7" font-size="37" text-anchor="middle">50</text><text x="460.9" y="687.7" font-size="37" text-anchor="middle">75</text><text x="547.1" y="687.7" font-size="37" text-anchor="middle">100</text><text x="633.3" y="687.7" font-size="37" text-anchor="middle">125</text><text x="719.5" y="687.7" font-size="37" text-anchor="middle">150</text><text x="805.7" y="687.7" font-size="37" text-anchor="middle">175</text><text x="891.9" y="687.7" font-size="37" text-anchor="middle">200</text>
<text x="466.5" y="751.8" font-size="42.5">Time (s)</text>
<g transform="translate(30.5 620.8) rotate(-90)">
<text x="0" y="0" font-size="42.5">O<tspan font-size="28.2" dy="11.2">3</tspan></text>
<path transform="translate(44.78 0)" d="M6.6 -9.9 C9.2 -8.3 12.2 -6.3 14.8 -4.4 C16.7 -3.0 16.4 -0.1 14.2 0.1 C12.6 0.2 11.9 -1.4 11.0 -3.1 C10.0 -5.1 8.7 -7.3 6.4 -9.5 Z" fill="#000"/>
<text x="86.22" y="0" font-size="42.5">NO<tspan font-size="28.2" dy="11.2">2</tspan></text>
<path transform="translate(161.69 0)" d="M6.6 -9.9 C9.2 -8.3 12.2 -6.3 14.8 -4.4 C16.7 -3.0 16.4 -0.1 14.2 0.1 C12.6 0.2 11.9 -1.4 11.0 -3.1 C10.0 -5.1 8.7 -7.3 6.4 -9.5 Z" fill="#000"/>
<text x="203.13" y="0" font-size="42.5">NO concentration (ppm)</text>
</g>
<g transform="translate(1012.6 558.2) rotate(-90)">
<text x="0" y="0" font-size="42.5">NO<tspan font-size="28.2" dy="11.2">3</tspan><tspan dy="-11.2"> concentration (ppm)</tspan></text>
</g>
<rect x="392.6" y="58.7" width="462" height="239.2" fill="#fff" stroke="#111" stroke-width="1.2"/><text x="396.6" y="93.1" font-size="34">Experiment data</text><text x="653.6" y="93.1" font-size="34">Modeling data</text><path d="M396 127.5 H474" stroke="#ee0a0a" stroke-width="2.4"/><circle cx="434.6" cy="127.5" r="6.8" fill="#fff" stroke="#ee0a0a" stroke-width="2.1"/><text x="481.4" y="139.1" font-size="34">O<tspan font-size="23.4" dy="8.8">3</tspan></text><path d="M396 177.3 H474" stroke="#1ee61e" stroke-width="2.4"/><circle cx="434.6" cy="177.3" r="6.8" fill="#fff" stroke="#1ee61e" stroke-width="2.1"/><text x="481.4" y="188.9" font-size="34">NO<tspan font-size="23.4" dy="8.8">2</tspan></text><path d="M396 227 H474" stroke="#1c2ae6" stroke-width="2.4"/><circle cx="434.6" cy="227" r="6.8" fill="#fff" stroke="#1c2ae6" stroke-width="2.1"/><text x="481.4" y="238.6" font-size="34">NO<tspan font-size="23.4" dy="8.8">3</tspan></text><path d="M658.5 127.5 H735" stroke="#dc0c14" stroke-width="3.6" stroke-linecap="round"/><text x="743.4" y="139.1" font-size="34">O<tspan font-size="23.4" dy="8.8">3</tspan></text><path d="M658.5 177.3 H735" stroke="#0b720b" stroke-width="3.6" stroke-linecap="round"/><text x="743.4" y="188.9" font-size="34">NO<tspan font-size="23.4" dy="8.8">2</tspan></text><path d="M658.5 227 H735" stroke="#0000ee" stroke-width="3.6" stroke-linecap="round"/><text x="743.4" y="238.6" font-size="34">NO<tspan font-size="23.4" dy="8.8">3</tspan></text><path d="M659.7 276.6 H733.6" stroke="#8c00c8" stroke-width="4.2" stroke-linecap="round" stroke-dasharray="10.8 11.2 0.01 10.6"/><text x="743.4" y="288.2" font-size="34">NO</text>
</svg></body></html>
